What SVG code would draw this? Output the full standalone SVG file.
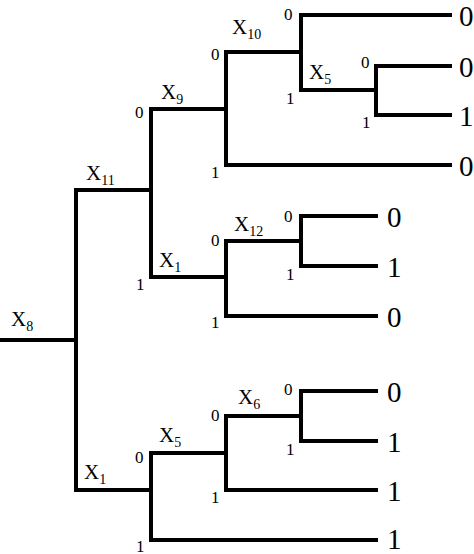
<svg xmlns="http://www.w3.org/2000/svg" width="474" height="554" viewBox="0 0 474 554" font-family="'Liberation Serif','Times New Roman','DejaVu Serif',serif">
<style>
.e{stroke:#000;stroke-width:4;fill:none;stroke-linecap:square}
text{font-family:'Liberation Serif','Times New Roman','DejaVu Serif',serif;fill:#000}
.v{font-size:21px}.s{font-size:14px}.b{font-size:17px}.l{font-size:29px}
</style>
<rect width="474" height="554" fill="#fff"/>
<g id="connectors">
<path class="e" d="M0,340H76M76,190V490M76,190H151M151,109V277M151,109H226M226,52V165M226,52H301M301,15V90M301,15H450M301,90H376M376,66V115M376,66H450M376,115H450M226,165H450M151,277H226M226,241V316M226,241H301M301,216V266M301,216H376M301,266H376M226,316H376M76,490H151M151,453V540M151,453H226M226,416V490M226,416H301M301,391V441M301,391H376M301,441H376M226,490H376M151,540H376"/>
</g>
<g id="vars">
<text class="v" x="11" y="326">X<tspan class="s" dy="5">8</tspan></text>
<text class="v" x="86" y="180">X<tspan class="s" dy="5">11</tspan></text>
<text class="v" x="161" y="99">X<tspan class="s" dy="5">9</tspan></text>
<text class="v" x="232" y="34">X<tspan class="s" dy="5">10</tspan></text>
<text class="v" x="309" y="79">X<tspan class="s" dy="5">5</tspan></text>
<text class="v" x="234" y="231">X<tspan class="s" dy="5">12</tspan></text>
<text class="v" x="159" y="267">X<tspan class="s" dy="5">1</tspan></text>
<text class="v" x="238" y="404">X<tspan class="s" dy="5">6</tspan></text>
<text class="v" x="159" y="442">X<tspan class="s" dy="5">5</tspan></text>
<text class="v" x="84" y="479">X<tspan class="s" dy="5">1</tspan></text>
</g>
<g id="edges">
<text class="b" x="284" y="20">0</text><text class="b" x="286" y="104">1</text>
<text class="b" x="211" y="60">0</text><text class="b" x="211" y="178">1</text>
<text class="b" x="135" y="118">0</text><text class="b" x="136" y="290">1</text>
<text class="b" x="361" y="68">0</text><text class="b" x="362" y="128">1</text>
<text class="b" x="284" y="222">0</text><text class="b" x="286" y="280">1</text>
<text class="b" x="211" y="246">0</text><text class="b" x="211" y="328">1</text>
<text class="b" x="284" y="395">0</text><text class="b" x="286" y="455">1</text>
<text class="b" x="211" y="421">0</text><text class="b" x="211" y="503">1</text>
<text class="b" x="135" y="463">0</text><text class="b" x="136" y="552">1</text>
</g>
<g id="leaves">
<text class="l" x="459" y="26">0</text><text class="l" x="459" y="77">0</text>
<text class="l" x="459" y="126">1</text><text class="l" x="459" y="176">0</text>
<text class="l" x="387" y="227">0</text><text class="l" x="387" y="277">1</text>
<text class="l" x="387" y="327">0</text><text class="l" x="387" y="402">0</text>
<text class="l" x="387" y="452">1</text><text class="l" x="387" y="501">1</text>
<text class="l" x="387" y="549">1</text>
</g>
</svg>
